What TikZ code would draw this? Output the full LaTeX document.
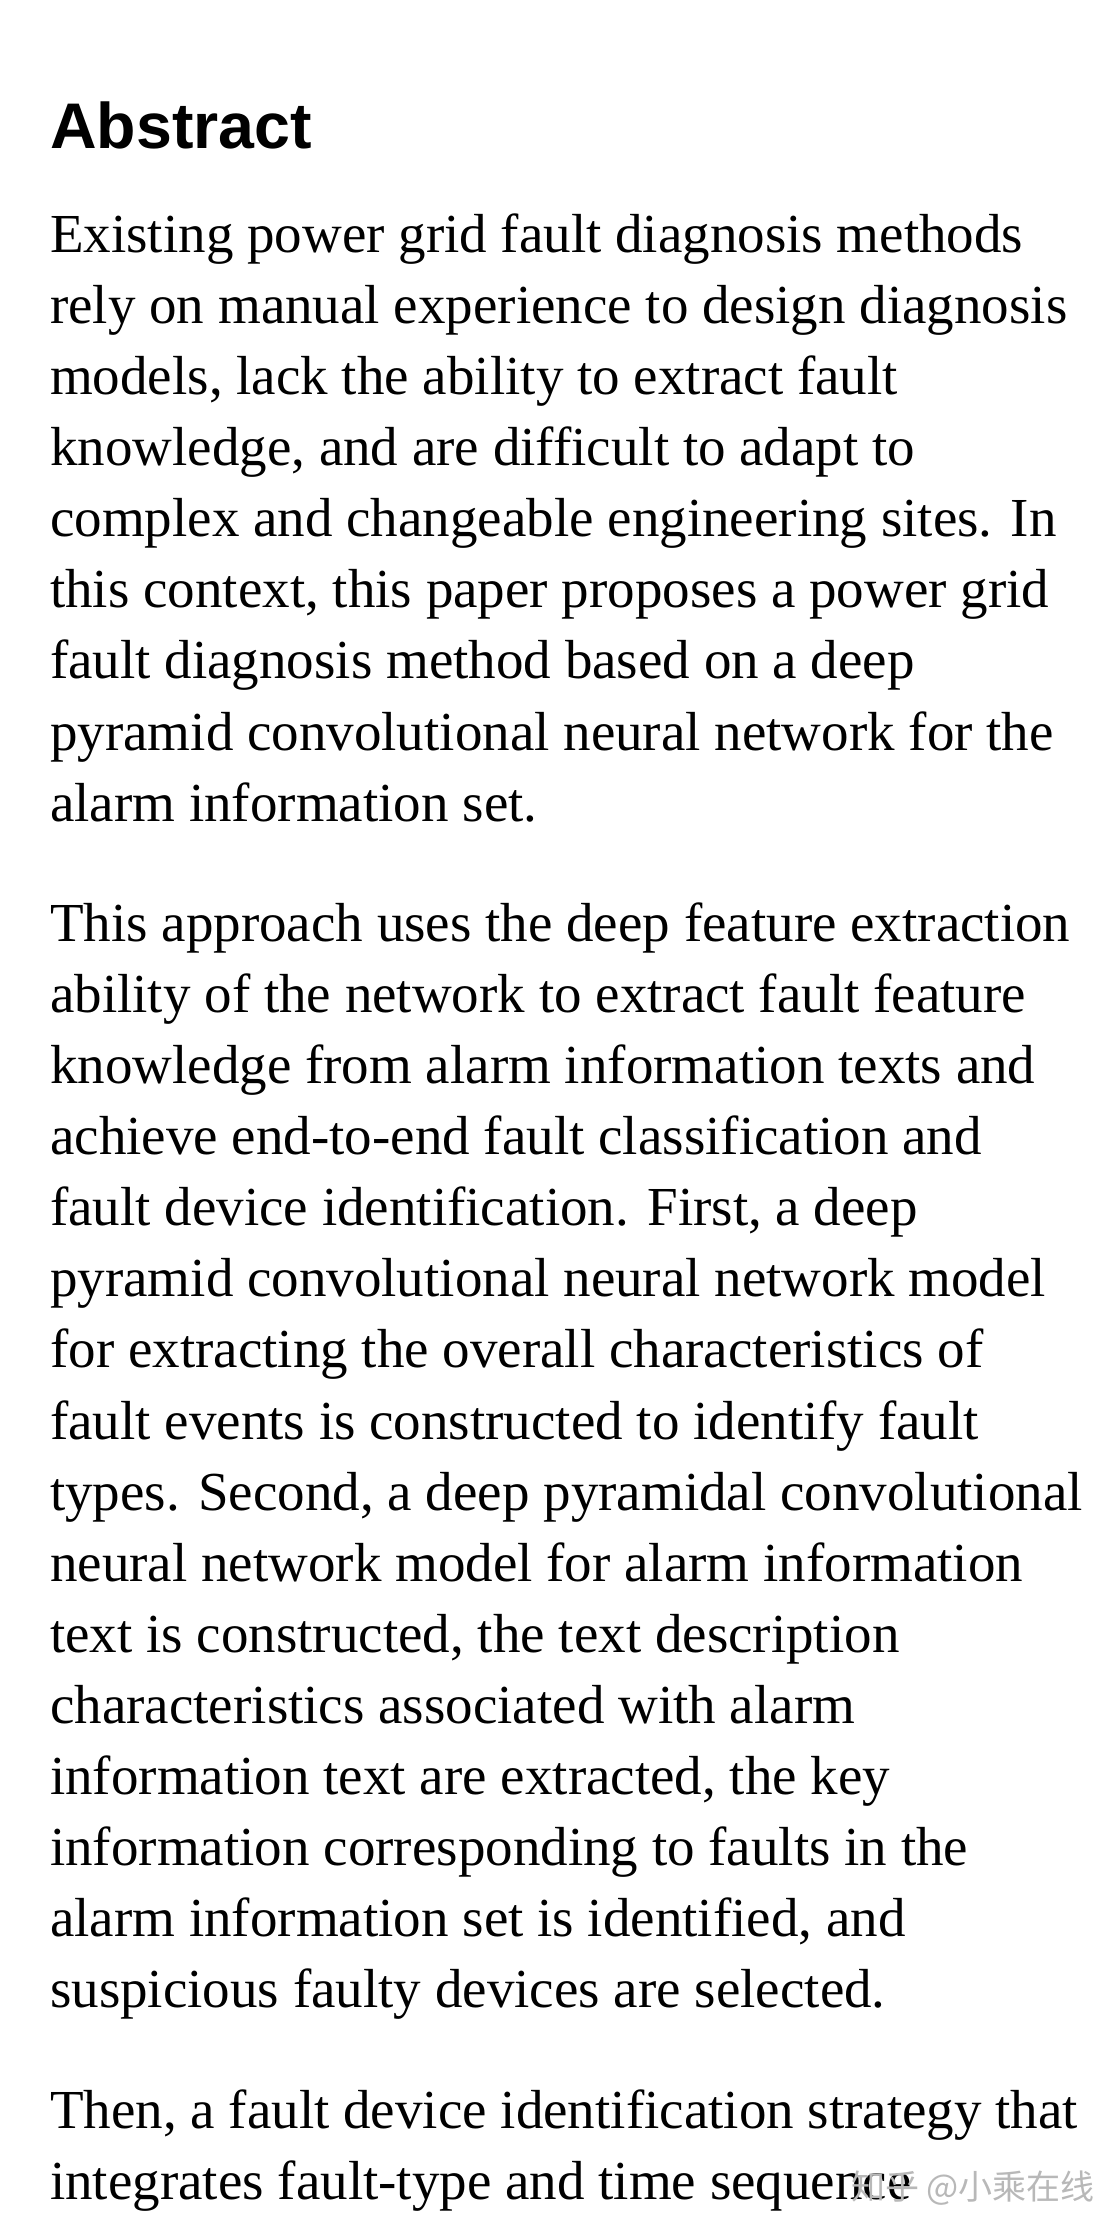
\documentclass[tikz,border=0pt]{standalone}
\usepackage{fontspec}
\setmainfont{Liberation Serif}
\newfontfamily\headfont{Liberation Sans}
\newfontfamily\cjk{Noto Sans CJK SC}
\begin{document}
\begin{tikzpicture}[x=1pt,y=1pt,
  body/.style={anchor=mid west,inner sep=0pt,font=\fontsize{55}{66}\selectfont},
  head/.style={anchor=mid west,inner sep=0pt,font=\headfont\bfseries\fontsize{64.5}{75}\selectfont}]
\useasboundingbox[fill=white] (0,0) rectangle (1117,-2238);
\node[head] (h) at (50,-146) {Abstract};
\foreach \t [count=\k from 0] in {
 Existing power grid fault diagnosis methods,
 rely on manual experience to design diagnosis,
 {models, lack the ability to extract fault},
 {knowledge, and are difficult to adapt to},
 complex and changeable engineering sites. In,
 {this context, this paper proposes a power grid},
 fault diagnosis method based on a deep,
 pyramid convolutional neural network for the,
 alarm information set.}
 \node[body] (p1l\k) at (50,-250-71.1*\k) {\t};
\foreach \t [count=\k from 0] in {
 This approach uses the deep feature extraction,
 ability of the network to extract fault feature,
 knowledge from alarm information texts and,
 achieve end-to-end fault classification and,
 {fault device identification. First, a deep},
 pyramid convolutional neural network model,
 for extracting the overall characteristics of,
 fault events is constructed to identify fault,
 {types. Second, a deep pyramidal convolutional},
 neural network model for alarm information,
 {text is constructed, the text description},
 characteristics associated with alarm,
 {information text are extracted, the key},
 information corresponding to faults in the,
 {alarm information set is identified, and},
 suspicious faulty devices are selected.}
 \node[body] (p2l\k) at (50,-939-71.1*\k) {\t};
\node[body] (p3l0) at (50,-2126) {Then, a fault device identification strategy that};
\node[body] (p3l1) at (50,-2197) {integrates fault-type and time sequence};
\node[anchor=mid east,inner sep=0pt,text=black!28,font=\cjk\fontsize{34}{40}\selectfont] (wm) at (1095,-2197) {知乎 @小乘在线};
\end{tikzpicture}
\end{document}
